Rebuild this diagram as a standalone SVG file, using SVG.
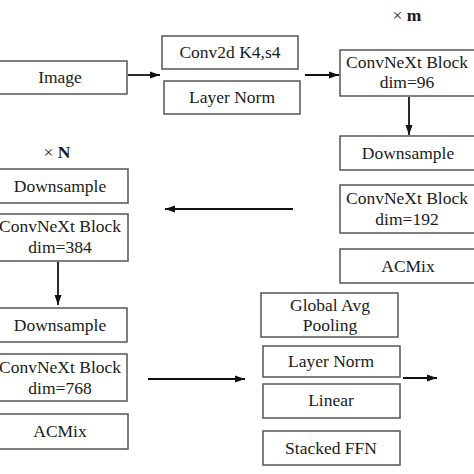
<svg xmlns="http://www.w3.org/2000/svg" width="474" height="474" viewBox="0 0 474 474">
<defs>
<marker id="ah" viewBox="0 0 10 10" refX="10" refY="5" markerWidth="10" markerHeight="10" markerUnits="userSpaceOnUse" orient="auto">
<path d="M0,1.5 L10,5 L0,8.5 Z" fill="#111"/>
</marker>
</defs>
<style>
rect{fill:#fff;stroke:#555;stroke-width:1.5}
text{font-family:'Liberation Serif','Times New Roman','DejaVu Serif',serif;font-size:17.5px;fill:#1a1a1a;text-anchor:middle}
.c line{stroke:#111;stroke-width:1.8;marker-end:url(#ah)}
</style>
<rect x="-2" y="0" width="478" height="474" style="fill:#fff;stroke:none"/>
<g id="image"><rect x="-2" y="61" width="129" height="33"/><text x="60" y="83">Image</text></g>
<g id="conv2d"><rect x="162" y="36" width="136" height="33"/><text x="230" y="58">Conv2d K4,s4</text></g>
<g id="ln1"><rect x="164" y="81" width="136" height="33"/><text x="232" y="103">Layer Norm</text></g>
<g id="lbl_m"><text x="407" y="21">× <tspan style="font-weight:bold">m</tspan></text></g>
<g id="cnb96"><rect x="340" y="50" width="136" height="46"/><text x="407" y="68">ConvNeXt Block</text><text x="407" y="88">dim=96</text></g>
<g id="ds1"><rect x="340" y="136" width="136" height="34"/><text x="408" y="159">Downsample</text></g>
<g id="cnb192"><rect x="340" y="185" width="136" height="48"/><text x="407" y="204">ConvNeXt Block</text><text x="407" y="225">dim=192</text></g>
<g id="acmix1"><rect x="340" y="249" width="136" height="34"/><text x="408" y="272">ACMix</text></g>
<g id="lbl_n"><text x="57" y="158">× <tspan style="font-weight:bold">N</tspan></text></g>
<g id="ds2"><rect x="-2" y="169" width="130" height="34"/><text x="60" y="192">Downsample</text></g>
<g id="cnb384"><rect x="-2" y="214" width="130" height="47"/><text x="60" y="232">ConvNeXt Block</text><text x="60" y="253">dim=384</text></g>
<g id="ds3"><rect x="-2" y="308" width="129" height="34"/><text x="60" y="331">Downsample</text></g>
<g id="cnb768"><rect x="-2" y="354" width="129" height="47"/><text x="60" y="373">ConvNeXt Block</text><text x="60" y="394">dim=768</text></g>
<g id="acmix2"><rect x="-2" y="414" width="130" height="35"/><text x="60" y="437">ACMix</text></g>
<g id="gap"><rect x="261" y="293" width="137" height="44"/><text x="330" y="311">Global Avg</text><text x="330" y="331">Pooling</text></g>
<g id="ln2"><rect x="263" y="346" width="137" height="31"/><text x="331" y="367">Layer Norm</text></g>
<g id="linear"><rect x="263" y="384" width="137" height="34"/><text x="331" y="406">Linear</text></g>
<g id="ffn"><rect x="263" y="431" width="137" height="34"/><text x="331" y="454">Stacked FFN</text></g>
<g class="c" id="connectors">
<line x1="128" y1="75" x2="160" y2="75"/>
<line x1="305" y1="75" x2="339" y2="75"/>
<line x1="409" y1="97" x2="409" y2="135"/>
<line x1="293" y1="209" x2="165" y2="209"/>
<line x1="58" y1="262" x2="58" y2="305"/>
<line x1="148" y1="379" x2="245" y2="379"/>
<line x1="403" y1="378" x2="437" y2="378"/>
</g>
</svg>
